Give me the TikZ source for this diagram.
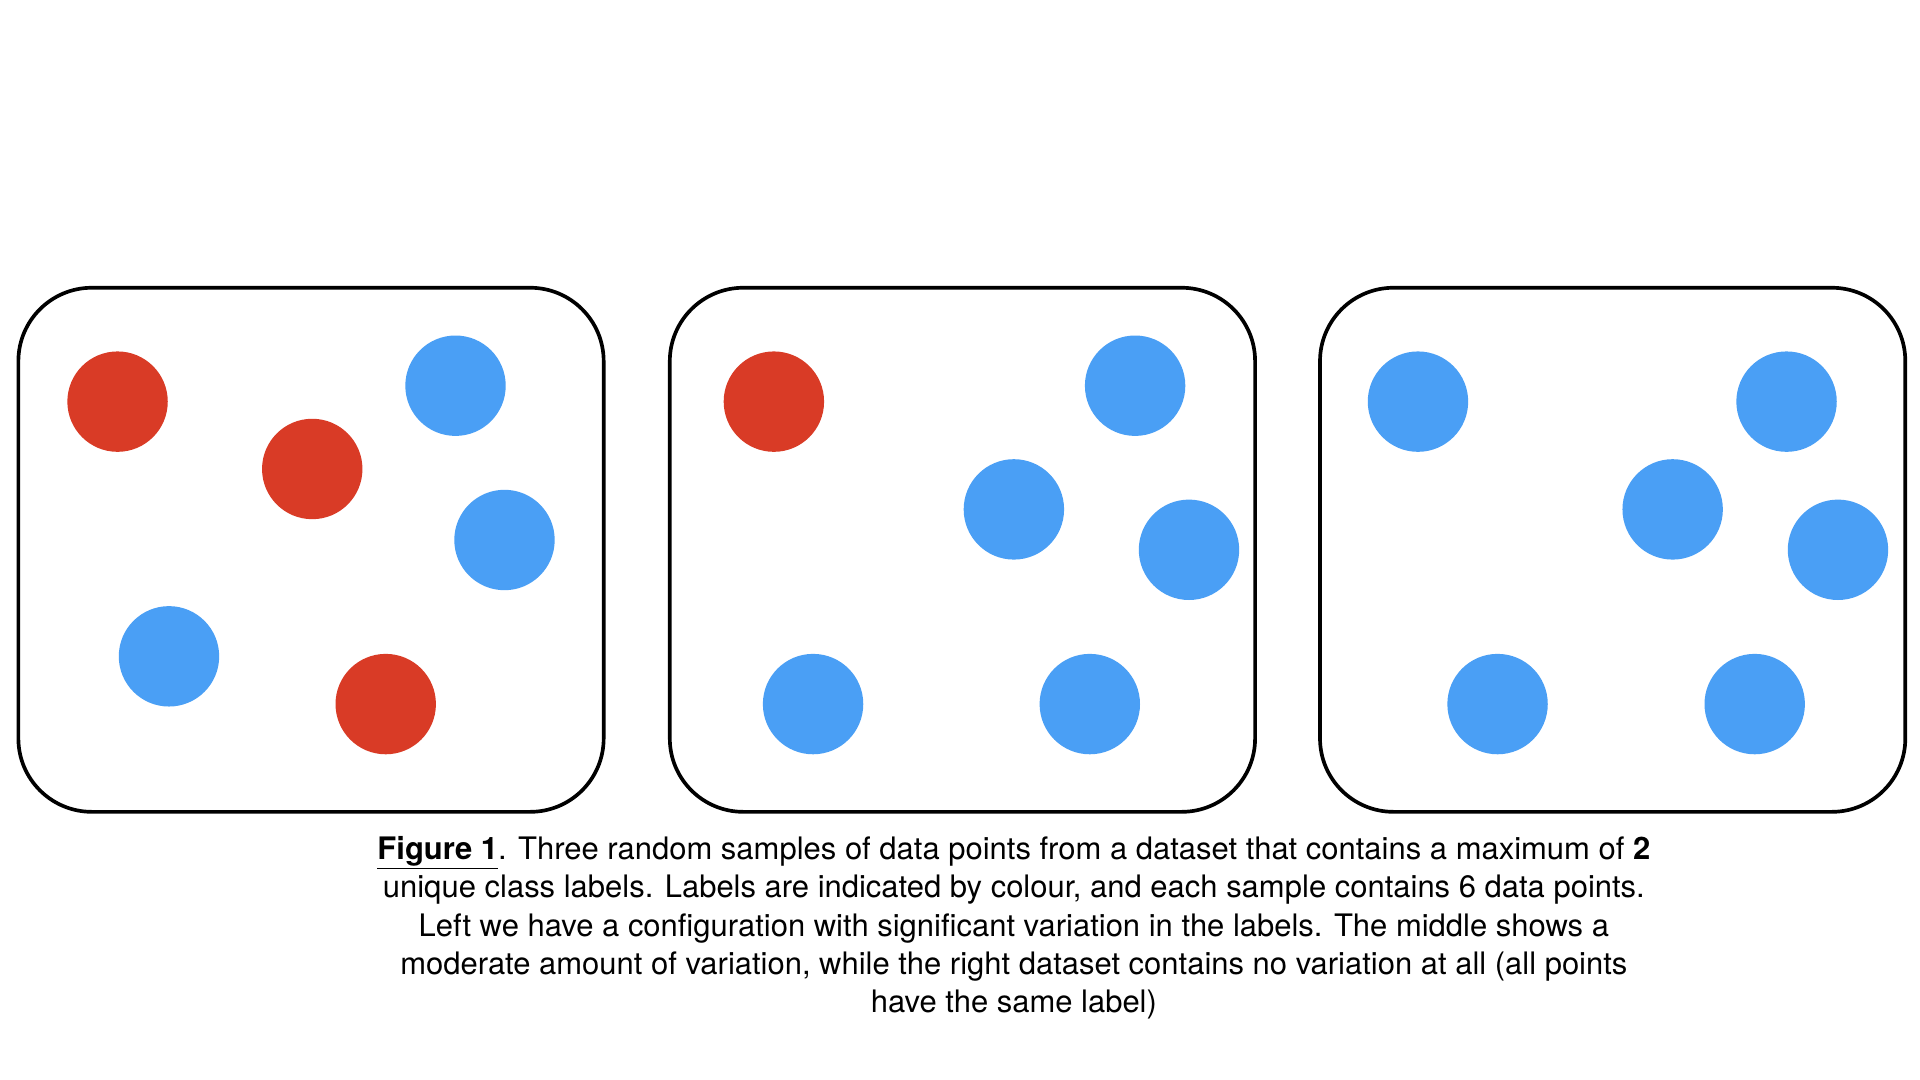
\documentclass[tikz,border=0pt]{standalone}
\usepackage{fontspec}
\setmainfont{TeX Gyre Heros}
\definecolor{rd}{HTML}{D93B26}
\definecolor{bl}{HTML}{4A9FF5}
\begin{document}
\begin{tikzpicture}[x=1pt,y=-1pt,
  panel/.style={draw=black,line width=3pt,rounded corners=60pt},
  rdot/.style={circle,fill=rd,minimum size=82pt,inner sep=0pt},
  bdot/.style={circle,fill=bl,minimum size=82pt,inner sep=0pt}]
\useasboundingbox (0,0) rectangle (1568,882);
\fill[white] (0,0) rectangle (1568,882);
\draw[panel] (15,235) rectangle (493,663);
\draw[panel] (547,235) rectangle (1025,663);
\draw[panel] (1078,235) rectangle (1556,663);
\node[rdot] (a1) at (96,328) {};
\node[rdot] (a2) at (255,383) {};
\node[bdot] (a3) at (372,315) {};
\node[bdot] (a4) at (412,441) {};
\node[bdot] (a5) at (138,536) {};
\node[rdot] (a6) at (315,575) {};
\node[rdot] (b1) at (632,328) {};
\node[bdot] (b2) at (927,315) {};
\node[bdot] (b3) at (828,416) {};
\node[bdot] (b4) at (971,449) {};
\node[bdot] (b5) at (664,575) {};
\node[bdot] (b6) at (890,575) {};
\node[bdot] (c1) at (1158,328) {};
\node[bdot] (c2) at (1459,328) {};
\node[bdot] (c3) at (1366,416) {};
\node[bdot] (c4) at (1501,449) {};
\node[bdot] (c5) at (1223,575) {};
\node[bdot] (c6) at (1433,575) {};
\node[anchor=north,align=center,font=\fontsize{25.3}{31.3}\selectfont,inner sep=0pt] (cap) at (828,683)
{\underline{\textbf{Figure 1}}. Three random samples of data points from a dataset that contains a maximum of \textbf{2}\\
unique class labels. Labels are indicated by colour, and each sample contains 6 data points.\\
Left we have a configuration with significant variation in the labels. The middle shows a\\
moderate amount of variation, while the right dataset contains no variation at all (all points\\
have the same label)};
\end{tikzpicture}
\end{document}
